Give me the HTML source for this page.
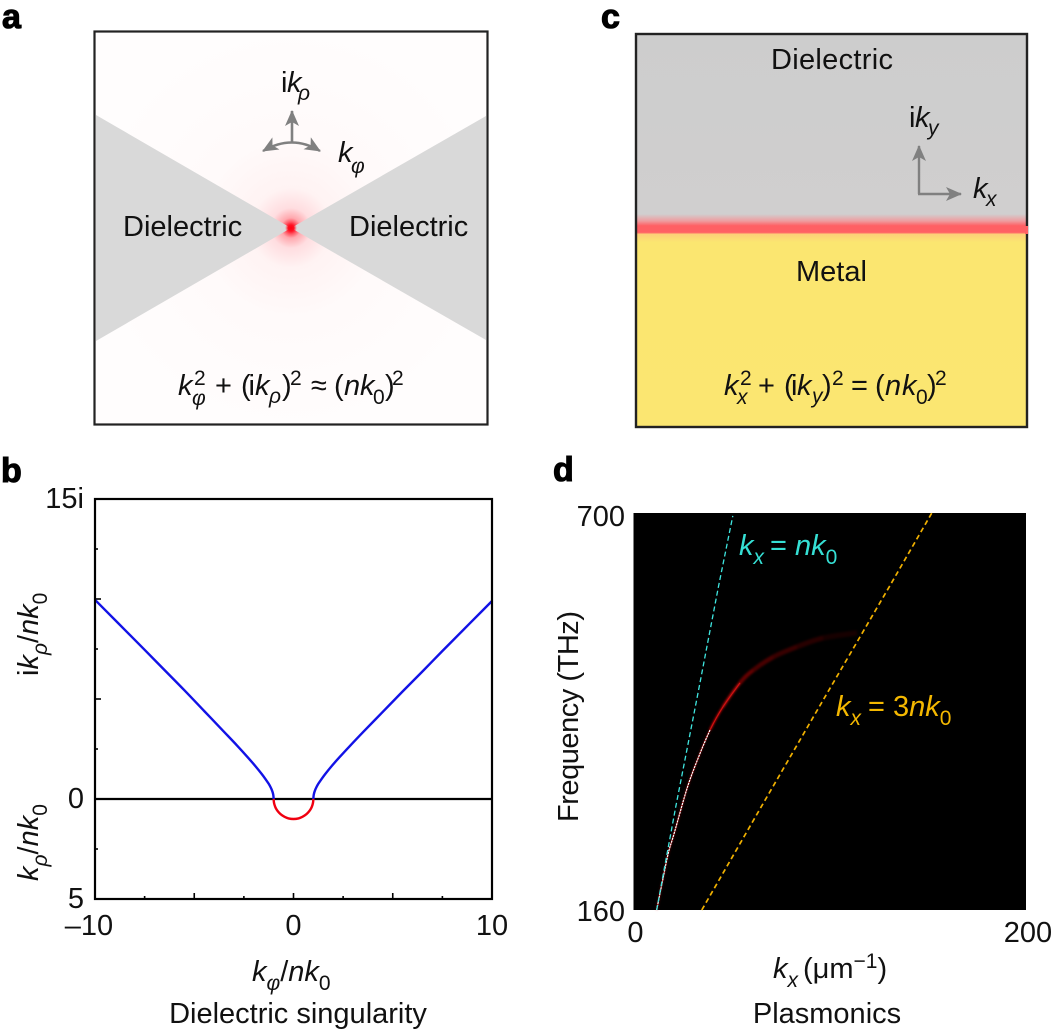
<!DOCTYPE html>
<html lang="en">
<head>
<meta charset="utf-8">
<title>Dielectric singularity and plasmonics</title>
<style>
html,body{margin:0;padding:0;background:#fff;width:1056px;height:1030px;overflow:hidden}
svg{display:block}
text{font-family:"Liberation Sans",sans-serif;font-size:29px;fill:#111}
.i{font-style:italic}
.s{font-size:21px}
.letter{font-weight:bold;font-size:34px;fill:#000;stroke:#000;stroke-width:1.1px}
</style>
</head>
<body>
<svg id="fig" xmlns="http://www.w3.org/2000/svg" width="1056" height="1030" viewBox="0 0 1056 1030">
<defs>
<radialGradient id="glowA" gradientUnits="userSpaceOnUse" cx="291" cy="228" r="200">
<stop offset="0" stop-color="#ff0014"/>
<stop offset=".02" stop-color="#ff3040"/>
<stop offset=".05" stop-color="#ffa8ae"/>
<stop offset=".1" stop-color="#ffdde0"/>
<stop offset=".2" stop-color="#fff3f3"/>
<stop offset=".45" stop-color="#fffafa"/>
<stop offset="1" stop-color="#fffdfd"/>
</radialGradient>
<radialGradient id="coreA" gradientUnits="userSpaceOnUse" cx="291" cy="228" r="6">
<stop offset="0" stop-color="#ff0010"/>
<stop offset=".5" stop-color="#ff1020"/>
<stop offset="1" stop-color="#ff4050" stop-opacity="0"/>
</radialGradient>
<linearGradient id="bgC" gradientUnits="userSpaceOnUse" x1="0" y1="34" x2="0" y2="427">
<stop offset="0" stop-color="#cdcdcd"/>
<stop offset=".4580" stop-color="#d0cfcf"/>
<stop offset=".4756" stop-color="#ee9da0"/>
<stop offset=".488" stop-color="#ff6064"/>
<stop offset=".505" stop-color="#ff6064"/>
<stop offset=".5095" stop-color="#fdcf78"/>
<stop offset=".53" stop-color="#fbe670"/>
<stop offset="1" stop-color="#fbe671"/>
</linearGradient>
<filter id="blurD" x="-20%" y="-20%" width="140%" height="140%"><feGaussianBlur stdDeviation="1.1"/></filter>
<marker id="arrowHead" viewBox="0 0 16 14" refX="15" refY="7" markerWidth="16" markerHeight="14" markerUnits="userSpaceOnUse" orient="auto-start-reverse"><path d="M0 0L16 7L0 14L4 7Z" fill="#808080"/></marker>
</defs>

<!-- Panel a -->
<g>
<text class="letter" x="2" y="28">a</text>
<rect x="94.5" y="31.5" width="393" height="393" fill="url(#glowA)"/>
<polygon points="96,115 291,228 96,341" fill="#d9d9d9"/>
<polygon points="486,116 291,228 486,340" fill="#d9d9d9"/>
<circle cx="291" cy="228" r="6" fill="url(#coreA)"/>
<rect x="94.5" y="31.5" width="393" height="393" fill="none" stroke="#222" stroke-width="2.2"/>
<path d="M292 143V111" stroke="#808080" stroke-width="2.6" fill="none" marker-end="url(#arrowHead)"/>
<path d="M263 151Q292 134 320 151" stroke="#808080" stroke-width="2.4" fill="none" marker-start="url(#arrowHead)" marker-end="url(#arrowHead)"/>
<text><tspan x="281" y="92">i</tspan><tspan class="i" x="287" y="92">k</tspan><tspan class="i s" x="298" y="100">ρ</tspan></text>
<text><tspan class="i" x="338" y="162">k</tspan><tspan class="i s" x="351" y="173">φ</tspan></text>
<text x="123" y="236">Dielectric</text>
<text x="349" y="236">Dielectric</text>
<text><tspan class="i" x="178" y="395">k</tspan><tspan class="s" x="194" y="385">2</tspan><tspan class="i s" x="192" y="405">φ</tspan><tspan x="215" y="395">+</tspan><tspan x="241" y="395">(</tspan><tspan x="248.5" y="395">i</tspan><tspan class="i" x="255" y="395">k</tspan><tspan class="i s" x="269" y="403">ρ</tspan><tspan x="282" y="395">)</tspan><tspan class="s" x="290" y="385">2</tspan><tspan x="311" y="395">≈</tspan><tspan x="334" y="395">(</tspan><tspan class="i" x="344" y="395">n</tspan><tspan class="i" x="360" y="395">k</tspan><tspan class="s" x="373" y="404">0</tspan><tspan x="385" y="395">)</tspan><tspan class="s" x="392" y="385">2</tspan></text>
</g>

<!-- Panel c -->
<g>
<text class="letter" x="601" y="28">c</text>
<rect x="636" y="34" width="391" height="393" fill="url(#bgC)"/>
<rect x="636" y="34" width="391" height="393" fill="none" stroke="#222" stroke-width="2.4"/>
<rect x="1025" y="226" width="3" height="8" fill="#ff6064"/>
<path d="M919 194V146" stroke="#808080" stroke-width="2.4" fill="none" marker-end="url(#arrowHead)"/>
<path d="M918 194H961" stroke="#808080" stroke-width="2.4" fill="none" marker-end="url(#arrowHead)"/>
<text x="771" y="69" style="letter-spacing:.3px">Dielectric</text>
<text x="796" y="281">Metal</text>
<text><tspan x="909" y="127">i</tspan><tspan class="i" x="915" y="127">k</tspan><tspan class="i s" x="928" y="135">y</tspan></text>
<text><tspan class="i" x="973" y="198">k</tspan><tspan class="i s" x="986" y="206">x</tspan></text>
<text><tspan class="i" x="724" y="395">k</tspan><tspan class="s" x="740" y="385">2</tspan><tspan class="i s" x="737" y="404">x</tspan><tspan x="758" y="395">+</tspan><tspan x="784" y="395">(</tspan><tspan x="791" y="395">i</tspan><tspan class="i" x="797" y="395">k</tspan><tspan class="i s" x="812" y="403">y</tspan><tspan x="822" y="395">)</tspan><tspan class="s" x="832" y="385">2</tspan><tspan x="851" y="395">=</tspan><tspan x="875" y="395">(</tspan><tspan class="i" x="885" y="395">n</tspan><tspan class="i" x="902" y="395">k</tspan><tspan class="s" x="916" y="404">0</tspan><tspan x="927" y="395">)</tspan><tspan class="s" x="935" y="385">2</tspan></text>
</g>

<!-- Panel b -->
<g id="panelB">
<text class="letter" x="1" y="482">b</text>
<text x="252" y="981"><tspan class="i">k</tspan><tspan class="i s" dy="9">φ</tspan><tspan dy="-9">/</tspan><tspan class="i">nk</tspan><tspan class="s" dy="9">0</tspan></text>
<text x="298" y="1023" text-anchor="middle">Dielectric singularity</text>
<text transform="translate(38,676) rotate(-90)"><tspan>i</tspan><tspan class="i">k</tspan><tspan class="i s" dy="9">ρ</tspan><tspan dy="-9">/</tspan><tspan class="i">nk</tspan><tspan class="s" dy="9">0</tspan></text>
<text transform="translate(38,881) rotate(-90)"><tspan class="i">k</tspan><tspan class="i s" dy="9">ρ</tspan><tspan dy="-9">/</tspan><tspan class="i">nk</tspan><tspan class="s" dy="9">0</tspan></text>
</g>

<!-- Panel d -->
<g id="panelD">
<text class="letter" x="553" y="481">d</text>
<rect x="633.5" y="513" width="392.5" height="397" fill="#000"/>
<text transform="translate(578,822) rotate(-90)" textLength="211">Frequency (THz)</text>
<text x="773" y="978"><tspan class="i">k</tspan><tspan class="i s" dy="9">x</tspan><tspan dy="-9" dx="5">(μm</tspan><tspan class="s" dy="-10">−1</tspan><tspan dy="10">)</tspan></text>
<text x="827" y="1023" text-anchor="middle">Plasmonics</text>
<text x="739" y="555" style="fill:#35dfd4"><tspan class="i" style="fill:#35dfd4">k</tspan><tspan class="i s" dy="9" style="fill:#35dfd4">x</tspan><tspan dy="-9" dx="6" style="fill:#35dfd4">=</tspan><tspan class="i" dx="8" style="fill:#35dfd4">nk</tspan><tspan class="s" dy="9" style="fill:#35dfd4">0</tspan></text>
<text x="836" y="716" style="fill:#f4b800"><tspan class="i" style="fill:#f4b800">k</tspan><tspan class="i s" dy="9" style="fill:#f4b800">x</tspan><tspan dy="-9" dx="7" style="fill:#f4b800">=</tspan><tspan dx="8" style="fill:#f4b800">3</tspan><tspan class="i" style="fill:#f4b800">nk</tspan><tspan class="s" dy="9" style="fill:#f4b800">0</tspan></text>
</g>
</svg>

<script>
// ---------- Panel b data ----------
const bXTicks = [-10, -7.5, -5, -2.5, 0, 2.5, 5, 7.5, 10];
const bXLabels = ['–10', '0', '10'];
const bXLabelValues = [-10, 0, 10];
const bYTicks = [12.5, 10, 7.5, 5, 2.5, 0, -2.5];
const bYLabels = ['15i', '0', '5'];
const bYLabelValues = [15, 0, -5];
const blueKPhi = [1, 1.01, 1.03, 1.08, 1.15, 1.25, 1.4, 1.6, 1.9, 2.3, 2.85, 3.5, 4.5, 5.5, 6.5, 7.5, 8.5, 9.5, 10];
const blueRight = [0, 0.14, 0.26, 0.42, 0.58, 0.76, 0.98, 1.25, 1.62, 2.07, 2.66, 3.34, 4.36, 5.38, 6.38, 7.4, 8.4, 9.4, 9.9];
const blueLeft = [0, 0.14, 0.26, 0.42, 0.58, 0.76, 0.98, 1.25, 1.62, 2.08, 2.68, 3.36, 4.4, 5.44, 6.45, 7.46, 8.46, 9.46, 9.96];
const redKPhi = [-1, -0.99, -0.96, -0.9, -0.8, -0.65, -0.45, -0.25, 0, 0.25, 0.45, 0.65, 0.8, 0.9, 0.96, 0.99, 1];
const redRho = [0, 0.14, 0.28, 0.44, 0.6, 0.76, 0.89, 0.97, 1, 0.97, 0.89, 0.76, 0.6, 0.44, 0.28, 0.14, 0];

// ---------- Panel d data ----------
const lightLineFreq = [160, 300, 450, 600, 696];
const lightLineK = [11.8, 21.5, 32.5, 43.3, 50.6];
const threeNLineFreq = [160, 300, 450, 600, 700];
const threeNLineK = [34.8, 65, 97.6, 130.4, 152];
const plasmonK = [11.8, 14.9, 17.7, 20.8, 27.6, 33.9, 39, 45.5, 54.3, 60.9, 71.1, 83.3, 96.6, 113.9];
const plasmonFreq = [160, 201, 237, 265, 328, 373, 405, 436, 469, 486, 504, 518, 530, 537];
const plasmonIntensity = [1, 1, 1, 1, 1, 1, 1, 0.8, 0.45, 0.3, 0.24, 0.18, 0.12, 0.05];
const dXLabels = ['0', '200'];
const dXLabelValues = [0, 200];
const dYLabels = ['160', '700'];
const dYLabelValues = [160, 700];

// ---------- Helpers ----------
const NS = 'http://www.w3.org/2000/svg';
function make(parent, tag, attrs, txt) {
  const el = document.createElementNS(NS, tag);
  for (const k in attrs) el.setAttribute(k, attrs[k]);
  if (txt !== undefined) el.textContent = txt;
  parent.appendChild(el);
  return el;
}
const xB = v => 293.5 + v * 19.85;
const yB = v => 799 - v * 20;
const xD = v => 633.5 + v / 200 * 392.5;
const yD = v => 910 - (v - 160) / 540 * 397;
function pts(xs, ys, fx, fy) {
  return xs.map((x, i) => fx(x).toFixed(2) + ',' + fy(ys[i]).toFixed(2)).join(' ');
}
function bez(p, i) {
  const a = p[Math.max(i - 1, 0)], b = p[i], c = p[i + 1], e = p[Math.min(i + 2, p.length - 1)];
  return 'C' + (b[0] + (c[0] - a[0]) / 6).toFixed(2) + ' ' + (b[1] + (c[1] - a[1]) / 6).toFixed(2) + ' ' +
    (c[0] - (e[0] - b[0]) / 6).toFixed(2) + ' ' + (c[1] - (e[1] - b[1]) / 6).toFixed(2) + ' ' +
    c[0].toFixed(2) + ' ' + c[1].toFixed(2);
}
function move(q) { return 'M' + q[0].toFixed(2) + ' ' + q[1].toFixed(2); }
function smooth(p) {
  let d = move(p[0]);
  for (let i = 0; i < p.length - 1; i++) d += bez(p, i);
  return d;
}

// ---------- Panel b ----------
const gB = document.getElementById('panelB');
bXTicks.forEach((v, i) => {
  const len = i % 2 === 0 ? 6 : 3;
  const t = make(gB, 'line', {x1: xB(v), x2: xB(v), y1: 899, y2: 899 - len, stroke: '#000', 'stroke-width': 1.6});
  
  
});
bYTicks.forEach((v, i) => {
  const len = i % 2 === 1 ? 6 : 3;
  const t = make(gB, 'line', {x1: 95, x2: 95 + len, y1: yB(v), y2: yB(v), stroke: '#000', 'stroke-width': 1.6});
  
  
});
const zeroLine = make(gB, 'line', {x1: xB(-10), x2: xB(10), y1: yB(0), y2: yB(0), stroke: '#000', 'stroke-width': 2.2});


const blueR = make(gB, 'path', {d: smooth(blueKPhi.map((x, i) => [xB(x), yB(blueRight[i])])), fill: 'none', stroke: '#1212e6', 'stroke-width': 2.4, 'stroke-linejoin': 'round'});


const blueL = make(gB, 'path', {d: smooth(blueKPhi.map((x, i) => [xB(-x), yB(blueLeft[i])])), fill: 'none', stroke: '#1212e6', 'stroke-width': 2.4, 'stroke-linejoin': 'round'});


const redArc = make(gB, 'path', {d: smooth(redKPhi.map((x, i) => [xB(x), yB(-redRho[i])])), fill: 'none', stroke: '#f00010', 'stroke-width': 2.4, 'stroke-linejoin': 'round'});


const frameB = make(gB, 'rect', {x: 95, y: 499, width: 397, height: 400, fill: 'none', stroke: '#000', 'stroke-width': 2.2});


bXLabels.forEach((s, i) => {
  const v = bXLabelValues[i];
  const t = make(gB, 'text', {x: xB(v) + (v < 0 ? -6 : 0), y: 935, 'text-anchor': 'middle'}, s);
  
  
});
bYLabels.forEach((s, i) => {
  const t = make(gB, 'text', {x: 84, y: yB(bYLabelValues[i]) + 9, 'text-anchor': 'end'}, s);
  
  
});

// ---------- Panel d ----------
const gD = document.getElementById('panelD');
const glow = make(gD, 'g', {filter: 'url(#blurD)'});


const plasmonPts = plasmonK.map((k, i) => [xD(k), yD(plasmonFreq[i])]);
for (let i = 0; i < plasmonPts.length - 1; i++) {
  const I = (plasmonIntensity[i] + plasmonIntensity[i + 1]) / 2;
  const seg = make(glow, 'path', {
    d: move(plasmonPts[i]) + bez(plasmonPts, i),
    fill: 'none', stroke: '#ff1010',
    'stroke-opacity': I >= 1 ? 0.45 : Math.min(1, I * 1.05),
    'stroke-width': 1.2 + (1 - I) * 4.5
  });
  
  
}
const redCorePts = plasmonPts.filter((p, i) => plasmonIntensity[i] >= 0.45);
const coreRed = make(gD, 'path', {d: smooth(redCorePts), fill: 'none', stroke: '#d81010', 'stroke-width': 1});


const bright = plasmonPts.filter((p, i) => plasmonIntensity[i] >= 1);
const coreWhite = make(gD, 'path', {d: smooth(bright), fill: 'none', stroke: '#fff', 'stroke-width': 1.2, 'stroke-dasharray': '2.2 .8'});


const light = make(gD, 'polyline', {points: pts(lightLineK, lightLineFreq, xD, yD), fill: 'none', stroke: '#3fe6e0', 'stroke-width': 1.3, 'stroke-dasharray': '5 3'});


const threeN = make(gD, 'polyline', {points: pts(threeNLineK, threeNLineFreq, xD, yD), fill: 'none', stroke: '#f0b000', 'stroke-width': 1.7, 'stroke-dasharray': '5 3.4'});


dXLabels.forEach((s, i) => {
  const t = make(gD, 'text', {x: xD(dXLabelValues[i]) + 2, y: 942, 'text-anchor': 'middle'}, s);
  
  
});
dYLabels.forEach((s, i) => {
  const t = make(gD, 'text', {x: 625, y: yD(dYLabelValues[i]) + (i === 0 ? 11 : 13), 'text-anchor': 'end'}, s);
  
  
});
</script>
</body>
</html>
